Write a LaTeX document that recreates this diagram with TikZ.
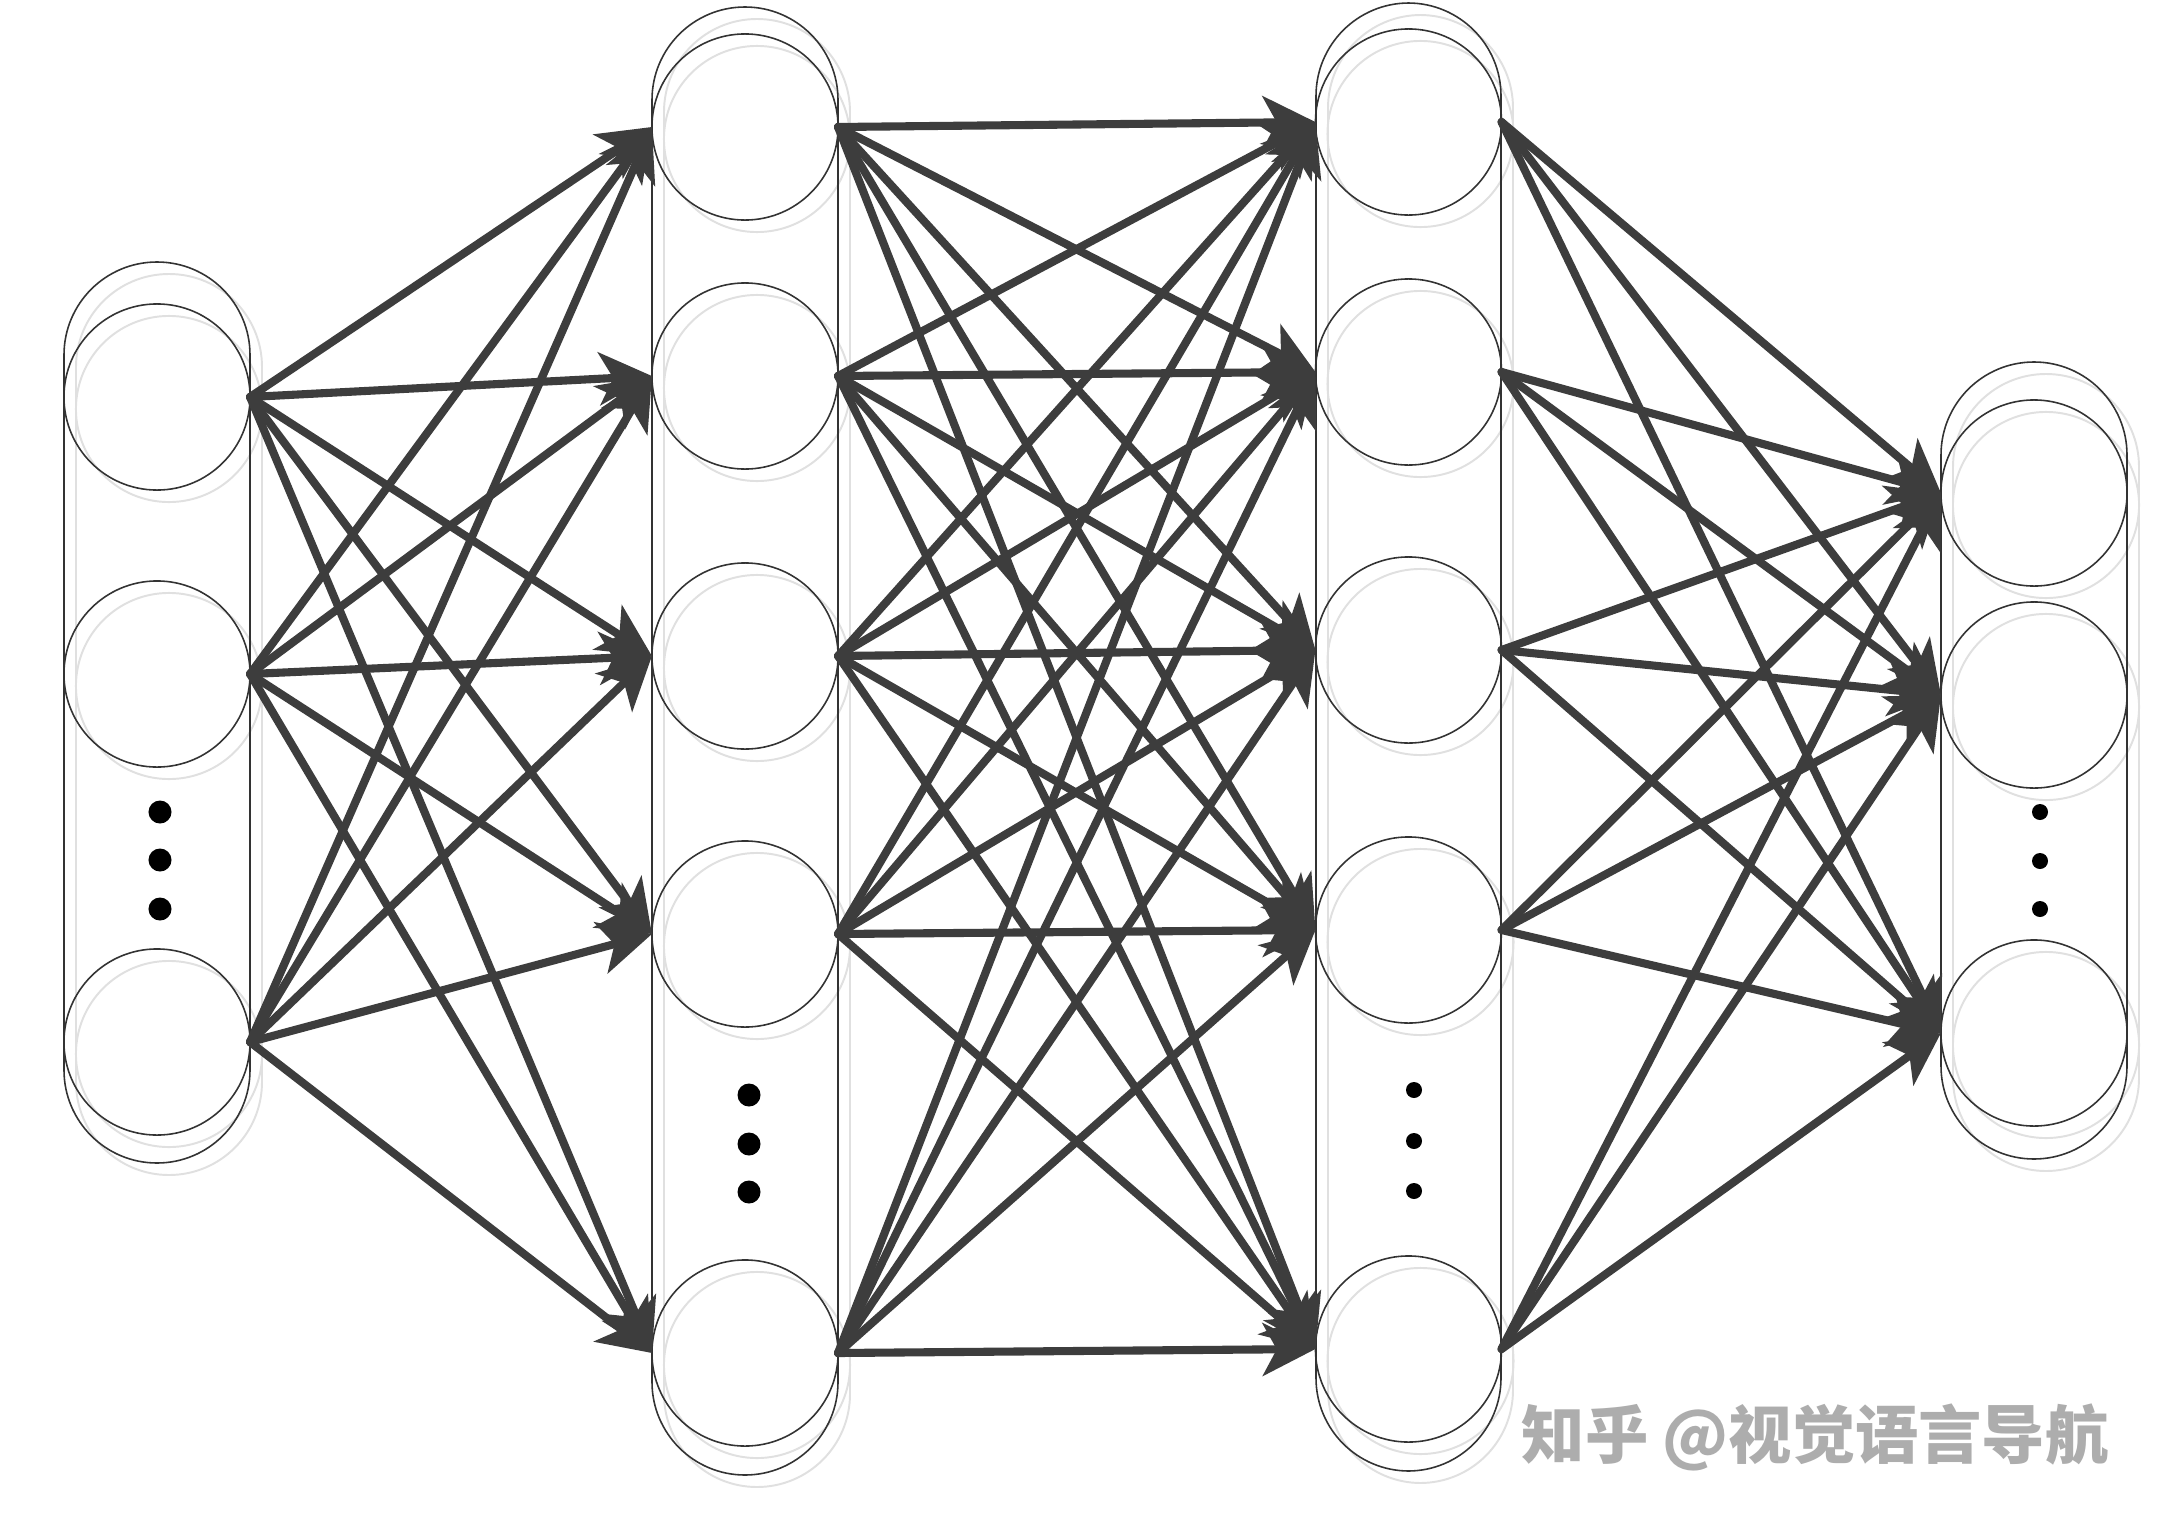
\documentclass[tikz,border=0pt]{standalone}
\usepackage{fontspec}
\newfontfamily\cjk{Noto Sans CJK SC}
\usetikzlibrary{arrows.meta}
\definecolor{edgec}{HTML}{3D3D3D}
\definecolor{ringc}{HTML}{333333}
\definecolor{ghostc}{HTML}{E0E0E0}
\definecolor{markc}{HTML}{ADADAD}
\begin{document}
\begin{tikzpicture}[x=0.01cm,y=-0.01cm,
 neuron/.style={circle, draw=ringc, line width=0.45pt, minimum size=1.86cm, inner sep=0pt, outer sep=0pt},
 ghost/.style={draw=ghostc, line width=0.55pt},
 capsule/.style={draw=ringc, line width=0.45pt, rounded corners=0.929cm},
 ghostcap/.style={draw=ghostc, line width=0.55pt, rounded corners=0.929cm},
 link/.style={draw=edgec, line width=2.3pt, line cap=round, -{Stealth[length=15pt,width=15pt,inset=4pt]}},
 bigdot/.style={circle, fill=black, inner sep=0pt, minimum size=0.23cm},
 smalldot/.style={circle, fill=black, inner sep=0pt, minimum size=0.16cm}]
\fill[white] (0,0) rectangle (2169,1524);
\useasboundingbox (0,0) rectangle (2169,1524);

% ghost capsules
\draw[ghostcap] (76,274) rectangle (262,1175);
\draw[ghostcap] (664,19) rectangle (850,1487);
\draw[ghostcap] (1328,15) rectangle (1513,1483);
\draw[ghostcap] (1953,374) rectangle (2139,1171);

% ghost circles
\foreach \x/\y in {157/397,157/674,157/1042,
                   745/127,745/376,745/656,745/934,745/1353,
                   1408.5/122,1408.5/372,1408.5/650,1408.5/930,1408.5/1349,
                   2034/493,2034/695,2034/1033}
  \draw[ghost] (\x+12,\y+12) circle[radius=0.93cm];

% capsules
\draw[capsule] (64,262) rectangle (250,1163);
\draw[capsule] (652,7) rectangle (838,1475);
\draw[capsule] (1316,3) rectangle (1501,1471);
\draw[capsule] (1941,362) rectangle (2127,1159);

% neurons
\node[neuron] (a1) at (157,397) {};
\node[neuron] (a2) at (157,674) {};
\node[neuron] (a3) at (157,1042) {};
\node[neuron] (b1) at (745,127) {};
\node[neuron] (b2) at (745,376) {};
\node[neuron] (b3) at (745,656) {};
\node[neuron] (b4) at (745,934) {};
\node[neuron] (b5) at (745,1353) {};
\node[neuron] (c1) at (1408.5,122) {};
\node[neuron] (c2) at (1408.5,372) {};
\node[neuron] (c3) at (1408.5,650) {};
\node[neuron] (c4) at (1408.5,930) {};
\node[neuron] (c5) at (1408.5,1349) {};
\node[neuron] (d1) at (2034,493) {};
\node[neuron] (d2) at (2034,695) {};
\node[neuron] (d3) at (2034,1033) {};

% dots
\node[bigdot] (ad1) at (160,812) {};
\node[bigdot] (ad2) at (160,860) {};
\node[bigdot] (ad3) at (160,909) {};
\node[bigdot] (bd1) at (749,1095) {};
\node[bigdot] (bd2) at (749,1144) {};
\node[bigdot] (bd3) at (749,1192) {};
\node[smalldot] (cd1) at (1414,1090) {};
\node[smalldot] (cd2) at (1414,1141) {};
\node[smalldot] (cd3) at (1414,1191) {};
\node[smalldot] (dd1) at (2040,812) {};
\node[smalldot] (dd2) at (2040,861) {};
\node[smalldot] (dd3) at (2040,909) {};

% connections
\foreach \s in {a1,a2,a3}
  \foreach \t in {b1,b2,b3,b4,b5}
    \draw[link] (\s.east) -- (\t.west);
\foreach \s in {b1,b2,b3,b4,b5}
  \foreach \t in {c1,c2,c3,c4,c5}
    \draw[link] (\s.east) -- (\t.west);
\foreach \s in {c1,c2,c3,c4,c5}
  \foreach \t in {d1,d2,d3}
    \draw[link] (\s.east) -- (\t.west);

% watermark
\node[text=markc, inner sep=0pt, anchor=west] (wm) at (1521,1437) {\cjk\bfseries\fontsize{18pt}{20pt}\selectfont 知乎 @视觉语言导航};
\end{tikzpicture}
\end{document}
